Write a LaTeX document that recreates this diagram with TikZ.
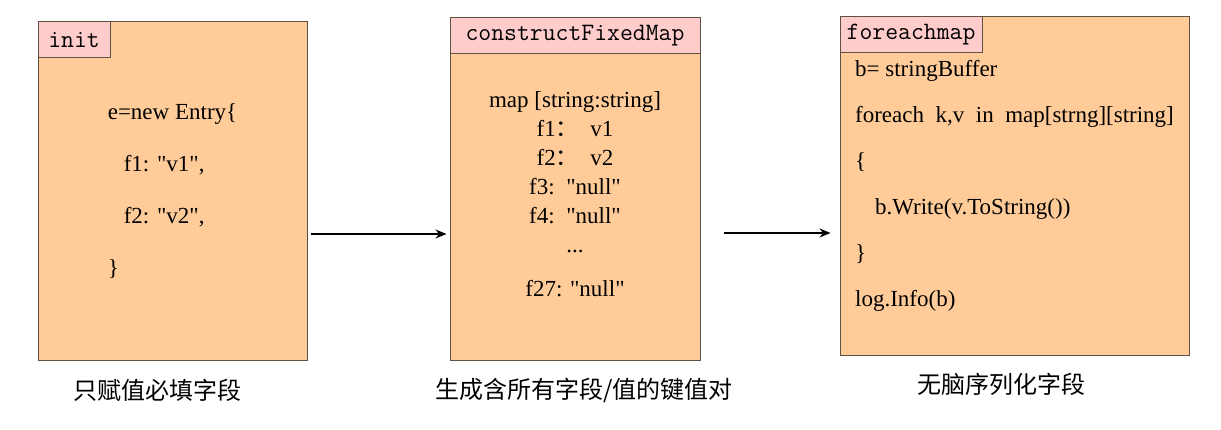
\documentclass[tikz,border=0pt]{standalone}
\usepackage{fontspec}
\setmainfont{Liberation Serif}
\newfontfamily\cjk{Noto Sans CJK SC}
\usetikzlibrary{arrows.meta,positioning,calc}
\definecolor{peach}{RGB}{255,204,153}
\definecolor{pinktag}{RGB}{255,204,204}
\definecolor{boxline}{RGB}{95,80,68}

\begin{document}
\begin{tikzpicture}[
    x=1pt, y=-1pt,
    box/.style={rectangle, draw=boxline, fill=peach, line width=1pt, inner sep=0pt},
    tag/.style={rectangle, draw=boxline, fill=pinktag, line width=1pt, inner sep=0pt, minimum height=36pt, font=\ttfamily\fontsize{25}{26}\selectfont},
    caption/.style={font=\cjk\fontsize{24}{28}\selectfont},
    line/.style={draw, -{Stealth[length=11pt,width=9pt]}, line width=1.2pt}
]
\useasboundingbox (0,0) rectangle (1221,430);

% ----------------------------
% Boxes
% ----------------------------
\node[box, minimum width=269pt, minimum height=338pt, align=left,
      font=\fontsize{23}{52}\selectfont] (init) at (172.5,191)
    {e=new Entry\{\\
     \hspace*{16pt}f1: \textquotedbl v1\textquotedbl,\\
     \hspace*{16pt}f2: \textquotedbl v2\textquotedbl,\\
     \}};
\node[tag, minimum width=72pt, anchor=north west] (inittag) at (init.north west) {init};

\node[box, minimum width=250pt, minimum height=342pt, align=center,
      font=\fontsize{23}{29}\selectfont] (fixed) at (575,189)
    {\\[-2pt]
     map [string:string]\\
     f1{\cjk ：}\ \ v1\\
     f2{\cjk ：}\ \ v2\\
     f3:\ \ \textquotedbl null\textquotedbl\\
     f4:\ \ \textquotedbl null\textquotedbl\\
     ...\\[15pt]
     f27: \textquotedbl null\textquotedbl};
\node[tag, minimum width=250pt, anchor=north west] (fixedtag) at (fixed.north west) {constructFixedMap};

\node[box, minimum width=349pt, minimum height=338pt, align=left,
      font=\fontsize{23}{46}\selectfont] (each) at (1014.5,186)
    {b= stringBuffer\\
     foreach\ \ k,v\ \ in\ \ map[strng][string]\\
     \{\\
     \hspace*{20pt}b.Write(v.ToString())\\
     \}\\
     log.Info(b)};
\node[tag, minimum width=142pt, anchor=north west] (eachtag) at (each.north west) {foreachmap};

% ----------------------------
% Captions
% ----------------------------
\node[caption] (initcap) at (157,390) {只赋值必填字段};
\node[caption] (fixedcap) at (584,390) {生成含所有字段/值的键值对};
\node[caption] (eachcap) at (1001,384) {无脑序列化字段};

% ----------------------------
% Edges
% ----------------------------
\path[line, shorten <=3pt, shorten >=3pt]
    ([yshift=-43pt]init.east) -- ([yshift=-43pt]init.east -| fixed.west);
\path[line, shorten <=23pt, shorten >=9pt]
    ([yshift=-44pt]fixed.east) -- ([yshift=-44pt]fixed.east -| each.west);

\end{tikzpicture}
\end{document}
